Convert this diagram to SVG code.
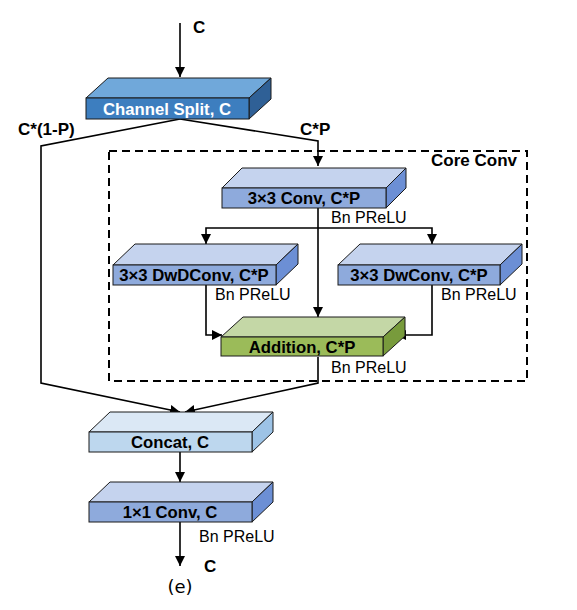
<svg xmlns="http://www.w3.org/2000/svg" width="577" height="610" viewBox="0 0 577 610">
<defs>
<marker id="ah" viewBox="0 0 10 10" refX="10" refY="5" markerWidth="10" markerHeight="10" markerUnits="userSpaceOnUse" orient="auto">
<path d="M0,0 L10,5 L0,10 z" fill="#000"/>
</marker>
<style>
.ln{fill:none;stroke:#000;stroke-width:1.6}
.bd{stroke:#1a1a1a;stroke-width:1}
.lb{font-family:"Liberation Sans",Arial,sans-serif;font-weight:bold;font-size:16.7px;text-anchor:middle}
.bn{font-family:"Liberation Sans",Arial,sans-serif;font-size:16px}
.tl{font-family:"Liberation Sans",Arial,sans-serif;font-weight:bold;font-size:17px}
.bl-t{fill:#c5d3ee}.bl-f{fill:#8eaadc}.bl-s{fill:#6c8fd5}
</style>
</defs>
<rect width="577" height="610" fill="#fff"/>

<g id="connectors">
<line class="ln" x1="180" y1="23" x2="180" y2="77" marker-end="url(#ah)"/>
<polyline class="ln" points="180,119 41,146 41,383 180,412" marker-end="url(#ah)"/>
<polyline class="ln" points="180,119 318,141 318,166" marker-end="url(#ah)"/>
<line class="ln" x1="318" y1="208" x2="318" y2="317" marker-end="url(#ah)"/>
<polyline class="ln" points="318,228 206,228 206,244" marker-end="url(#ah)"/>
<polyline class="ln" points="318,228 432,228 432,244" marker-end="url(#ah)"/>
<polyline class="ln" points="206,285 206,335 222,335" marker-end="url(#ah)"/>
<polyline class="ln" points="432,285 432,335 396,335" marker-end="url(#ah)"/>
<polyline class="ln" points="318,357 318,383 185,412" marker-end="url(#ah)"/>
<line class="ln" x1="180" y1="452" x2="180" y2="482" marker-end="url(#ah)"/>
<line class="ln" x1="180" y1="522" x2="180" y2="566" marker-end="url(#ah)"/>
</g>

<g id="core-conv">
<rect x="109" y="151" width="418" height="230" fill="none" stroke="#000" stroke-width="2" stroke-dasharray="8,5"/>
<text class="tl" x="517" y="166" text-anchor="end">Core Conv</text>
</g>

<g id="labels">
<text class="tl" x="193" y="33">C</text>
<text class="tl" x="18" y="135">C*(1-P)</text>
<text class="tl" x="300" y="135">C*P</text>
<text class="tl" x="204" y="572">C</text>
<text x="180" y="593" text-anchor="middle" font-family="'DejaVu Sans',sans-serif" font-size="18">(e)</text>
</g>

<g id="channel-split">
<polygon class="bd" fill="#70a8da" points="86,98 108,78 271,78 249,98"/>
<polygon class="bd" fill="#2f6096" points="249,98 271,78 271,99 249,119"/>
<rect class="bd" x="86" y="98" width="163" height="21" fill="#3d7ebf"/>
<text class="lb" x="167" y="114.5" fill="#fff">Channel Split, C</text>
</g>

<g id="conv3x3">
<polygon class="bd bl-t" points="222,188 242,168 406,168 386,188"/>
<polygon class="bd bl-s" points="386,188 406,168 406,188 386,208"/>
<rect class="bd bl-f" x="222" y="188" width="164" height="20"/>
<text class="lb" x="304" y="204">3×3 Conv, C*P</text>
<text class="bn" x="331" y="223">Bn PReLU</text>
</g>

<g id="dwdconv">
<polygon class="bd bl-t" points="113,265 135,244 298,244 276,265"/>
<polygon class="bd bl-s" points="276,265 298,244 298,264 276,285"/>
<rect class="bd bl-f" x="113" y="265" width="163" height="20"/>
<text class="lb" x="194" y="281">3×3 DwDConv, C*P</text>
<text class="bn" x="215" y="300">Bn PReLU</text>
</g>

<g id="dwconv">
<polygon class="bd bl-t" points="338,265 360,244 522,244 500,265"/>
<polygon class="bd bl-s" points="500,265 522,244 522,264 500,285"/>
<rect class="bd bl-f" x="338" y="265" width="162" height="20"/>
<text class="lb" x="419" y="281">3×3 DwConv, C*P</text>
<text class="bn" x="441" y="300">Bn PReLU</text>
</g>

<g id="addition">
<polygon class="bd" fill="#c4d7a6" points="221,337 243,317 405,317 383,337"/>
<polygon class="bd" fill="#789b3c" points="383,337 405,317 405,336 383,356"/>
<rect class="bd" x="221" y="337" width="162" height="19" fill="#9bbb59"/>
<text class="lb" x="302" y="352.5">Addition, C*P</text>
<text class="bn" x="331" y="373">Bn PReLU</text>
</g>

<g id="concat">
<polygon class="bd" fill="#dbe8f5" points="89,432 110,412 273,412 252,432"/>
<polygon class="bd" fill="#9dc3e6" points="252,432 273,412 273,432 252,452"/>
<rect class="bd" x="89" y="432" width="163" height="20" fill="#bdd7ee"/>
<text class="lb" x="170" y="448">Concat, C</text>
</g>

<g id="conv1x1">
<polygon class="bd bl-t" points="89,502 110,482 273,482 252,502"/>
<polygon class="bd bl-s" points="252,502 273,482 273,502 252,522"/>
<rect class="bd bl-f" x="89" y="502" width="163" height="20"/>
<text class="lb" x="170" y="518">1×1 Conv, C</text>
<text class="bn" x="199" y="542">Bn PReLU</text>
</g>
</svg>
